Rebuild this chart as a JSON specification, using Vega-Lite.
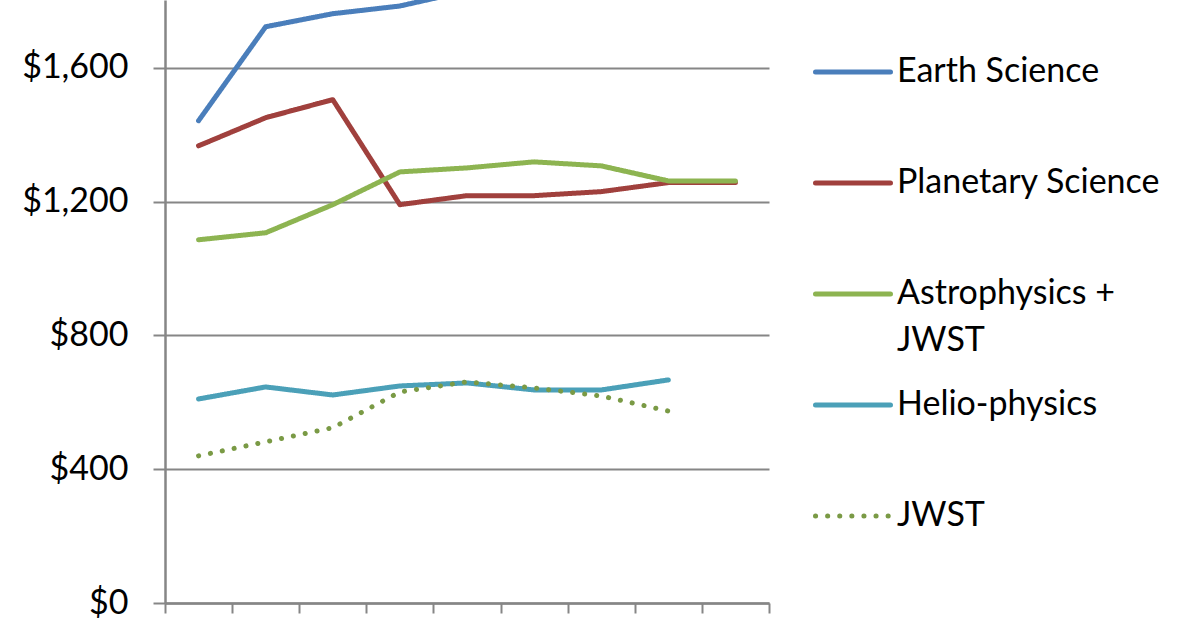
{
  "$schema": "https://vega.github.io/schema/vega-lite/v6.json",
  "width": 604,
  "height": 603,
  "autosize": {"type": "none"},
  "padding": {"left": 165, "top": 0, "right": 431, "bottom": 27},
  "background": "white",
  "config": {
    "view": {"stroke": null},
    "font": "Lato"
  },
  "data": {
    "values": [
      {"series": "Earth Science", "year": 2010, "value": 1442},
      {"series": "Earth Science", "year": 2011, "value": 1723},
      {"series": "Earth Science", "year": 2012, "value": 1762},
      {"series": "Earth Science", "year": 2013, "value": 1785},
      {"series": "Earth Science", "year": 2014, "value": 1830},
      {"series": "Earth Science", "year": 2015, "value": 1850},
      {"series": "Earth Science", "year": 2016, "value": 1870},
      {"series": "Earth Science", "year": 2017, "value": 1880},
      {"series": "Earth Science", "year": 2018, "value": 1890},
      {"series": "Planetary Science", "year": 2010, "value": 1367},
      {"series": "Planetary Science", "year": 2011, "value": 1451},
      {"series": "Planetary Science", "year": 2012, "value": 1505},
      {"series": "Planetary Science", "year": 2013, "value": 1191},
      {"series": "Planetary Science", "year": 2014, "value": 1218},
      {"series": "Planetary Science", "year": 2015, "value": 1218},
      {"series": "Planetary Science", "year": 2016, "value": 1230},
      {"series": "Planetary Science", "year": 2017, "value": 1257},
      {"series": "Planetary Science", "year": 2018, "value": 1257},
      {"series": "Astrophysics + JWST", "year": 2010, "value": 1086},
      {"series": "Astrophysics + JWST", "year": 2011, "value": 1107},
      {"series": "Astrophysics + JWST", "year": 2012, "value": 1191},
      {"series": "Astrophysics + JWST", "year": 2013, "value": 1289},
      {"series": "Astrophysics + JWST", "year": 2014, "value": 1301},
      {"series": "Astrophysics + JWST", "year": 2015, "value": 1319},
      {"series": "Astrophysics + JWST", "year": 2016, "value": 1307},
      {"series": "Astrophysics + JWST", "year": 2017, "value": 1262},
      {"series": "Astrophysics + JWST", "year": 2018, "value": 1262},
      {"series": "Helio-physics", "year": 2010, "value": 610},
      {"series": "Helio-physics", "year": 2011, "value": 646},
      {"series": "Helio-physics", "year": 2012, "value": 622},
      {"series": "Helio-physics", "year": 2013, "value": 649},
      {"series": "Helio-physics", "year": 2014, "value": 658},
      {"series": "Helio-physics", "year": 2015, "value": 637},
      {"series": "Helio-physics", "year": 2016, "value": 637},
      {"series": "Helio-physics", "year": 2017, "value": 667},
      {"series": "JWST", "year": 2010, "value": 440},
      {"series": "JWST", "year": 2011, "value": 482},
      {"series": "JWST", "year": 2012, "value": 524},
      {"series": "JWST", "year": 2013, "value": 631},
      {"series": "JWST", "year": 2014, "value": 661},
      {"series": "JWST", "year": 2015, "value": 643},
      {"series": "JWST", "year": 2016, "value": 619},
      {"series": "JWST", "year": 2017, "value": 574}
    ]
  },
  "mark": {"type": "line", "strokeCap": "round", "strokeJoin": "round", "clip": true},
  "encoding": {
    "x": {
      "field": "year",
      "type": "quantitative",
      "scale": {"domain": [2009.5, 2018.5], "nice": false, "zero": false},
      "axis": {
        "title": null,
        "values": [2009.5, 2010.5, 2011.5, 2012.5, 2013.5, 2014.5, 2015.5, 2016.5, 2017.5, 2018.5],
        "labels": false,
        "grid": false,
        "tickSize": 10,
        "tickColor": "#868686",
        "tickWidth": 2,
        "domainColor": "#868686",
        "domainWidth": 2.5
      }
    },
    "y": {
      "field": "value",
      "type": "quantitative",
      "scale": {"domain": [0, 1803], "nice": false},
      "axis": {
        "title": null,
        "values": [0, 400, 800, 1200, 1600],
        "format": "$,.0f",
        "labelFont": "Lato",
        "labelFontSize": 34,
        "labelColor": "#000000",
        "labelPadding": 25,
        "tickSize": 12,
        "tickColor": "#868686",
        "tickWidth": 2,
        "domainColor": "#868686",
        "domainWidth": 2.5,
        "gridColor": "#868686",
        "gridWidth": 2
      }
    },
    "color": {
      "field": "series",
      "type": "nominal",
      "scale": {
        "domain": ["Earth Science", "Planetary Science", "Astrophysics + JWST", "Helio-physics", "JWST"],
        "range": ["#4A7EBB", "#A0403D", "#8DB451", "#4BA0B8", "#7A9A45"]
      },
      "legend": {
        "title": null,
        "orient": "none",
        "legendX": 648,
        "legendY": 32,
        "symbolType": "stroke",
        "symbolSize": 5625,
        "symbolStrokeWidth": 5,
        "labelFont": "Lato",
        "labelFontSize": 34,
        "labelColor": "#000000",
        "labelOffset": 4,
        "labelLimit": 400,
        "rowPadding": 7,
        "gridAlign": "all",
        "labelExpr": "datum.label == 'Astrophysics + JWST' ? ['Astrophysics +', 'JWST'] : datum.label",
        "encode": {
          "symbols": {"update": {"strokeCap": {"value": "round"}}},
          "labels": {"update": {"lineHeight": {"value": 47}}}
        }
      }
    },
    "strokeDash": {
      "field": "series",
      "type": "nominal",
      "scale": {
        "domain": ["Earth Science", "Planetary Science", "Astrophysics + JWST", "Helio-physics", "JWST"],
        "range": [[1, 0], [1, 0], [1, 0], [1, 0], [0.1, 12]]
      },
      "legend": null
    },
    "strokeWidth": {
      "field": "series",
      "type": "nominal",
      "scale": {
        "domain": ["Earth Science", "Planetary Science", "Astrophysics + JWST", "Helio-physics", "JWST"],
        "range": [5, 5, 5, 5, 6]
      },
      "legend": null
    }
  }
}
